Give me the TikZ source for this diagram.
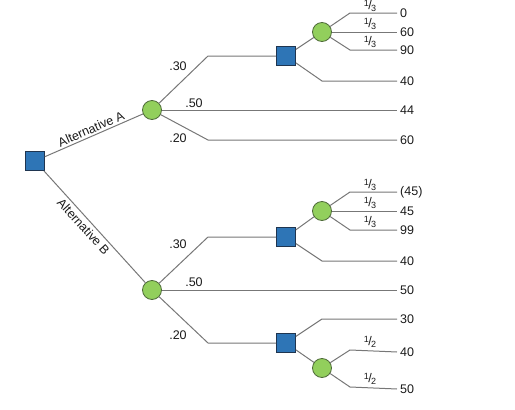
\documentclass[tikz,border=0pt]{standalone}
\usepackage{fontspec}
\setmainfont{Liberation Sans}
\definecolor{decblue}{HTML}{2E75B6}
\definecolor{decedge}{HTML}{1F3550}
\definecolor{chgreen}{HTML}{92CF5C}
\definecolor{chedge}{HTML}{4F6B3A}
\definecolor{branch}{HTML}{777777}
\definecolor{txt}{HTML}{1A1A1A}
\newcommand{\frc}[2]{\raisebox{0.45ex}{\fontsize{9}{9}\selectfont #1}\kern-0.5pt/\kern-0.5pt\raisebox{-0.35ex}{\fontsize{9}{9}\selectfont #2}}
\begin{document}
\begin{tikzpicture}[x=1pt,y=-1pt,
  every node/.style={font=\fontsize{12.5}{14}\selectfont, text=txt},
  decbox/.style={draw=decedge, fill=decblue, line width=0.8pt, minimum size=19pt, inner sep=0pt},
  chancenode/.style={circle, draw=chedge, fill=chgreen, line width=0.8pt, minimum size=19pt, inner sep=0pt},
  br/.style={draw=branch, line width=1pt},
  val/.style={anchor=west, inner sep=3pt},
  prob/.style={inner sep=0pt}]
\useasboundingbox (0,0) rectangle (515,410);

% nodes
\node[decbox] (r) at (35,161) {};
\node[chancenode] (a) at (152,110) {};
\node[chancenode] (b) at (152,290) {};
\node[decbox] (d1) at (286,56) {};
\node[chancenode] (c1) at (322,32) {};
\node[decbox] (d2) at (286,237) {};
\node[chancenode] (c2) at (322,211) {};
\node[decbox] (d3) at (286,343) {};
\node[chancenode] (c3) at (322,368) {};

% knee coordinates
\coordinate (ka1) at (208,56);
\coordinate (ka3) at (208,140);
\coordinate (kc11) at (350,13);
\coordinate (kc13) at (350,50);
\coordinate (kd1) at (322,81);
\coordinate (kb1) at (208,237);
\coordinate (kb3) at (208,343);
\coordinate (kc21) at (350,192);
\coordinate (kc23) at (350,230);
\coordinate (kd2) at (322,261);
\coordinate (kd3) at (322,319);
\coordinate (kc31) at (350,350);
\coordinate (kc32) at (350,387);

% values
\node[val] (v1) at (397,13) {0};
\node[val] (v2) at (397,32) {60};
\node[val] (v3) at (397,50) {90};
\node[val] (v4) at (397,81) {40};
\node[val] (v5) at (397,110) {44};
\node[val] (v6) at (397,140) {60};
\node[val] (v7) at (397,192) {(45)};
\node[val] (v8) at (397,211) {45};
\node[val] (v9) at (397,230) {99};
\node[val] (v10) at (397,261) {40};
\node[val] (v11) at (397,290) {50};
\node[val] (v12) at (397,319) {30};
\node[val] (v13) at (397,352) {40};
\node[val] (v14) at (397,389) {50};

% connectors
\draw[br] (r) -- node[sloped, above, inner sep=2pt] {Alternative A} (a);
\draw[br] (r) -- node[sloped, below, inner sep=3pt, pos=0.45] {Alternative B} (b);

\draw[br] (a) -- (ka1) -- (d1);
\draw[br] (a) -- (v5.west);
\draw[br] (a) -- (ka3) -- (v6.west);
\draw[br] (d1) -- (c1);
\draw[br] (d1) -- (kd1) -- (v4.west);
\draw[br] (c1) -- (kc11) -- (v1.west);
\draw[br] (c1) -- (v2.west);
\draw[br] (c1) -- (kc13) -- (v3.west);

\draw[br] (b) -- (kb1) -- (d2);
\draw[br] (b) -- (v11.west);
\draw[br] (b) -- (kb3) -- (d3);
\draw[br] (d2) -- (c2);
\draw[br] (d2) -- (kd2) -- (v10.west);
\draw[br] (c2) -- (kc21) -- (v7.west);
\draw[br] (c2) -- (v8.west);
\draw[br] (c2) -- (kc23) -- (v9.west);
\draw[br] (d3) -- (kd3) -- (v12.west);
\draw[br] (d3) -- (c3);
\draw[br] (c3) -- (kc31) -- (v13.west);
\draw[br] (c3) -- (kc32) -- (v14.west);

% probability labels
\node[prob] (pa1) at (178,66) {.30};
\node[prob] (pa2) at (194,103) {.50};
\node[prob] (pa3) at (178,138) {.20};
\node[prob] (pb1) at (178,244) {.30};
\node[prob] (pb2) at (194,282) {.50};
\node[prob] (pb3) at (178,335) {.20};
\node[prob] (q1) at (370,6) {\frc{1}{3}};
\node[prob] (q2) at (370,24) {\frc{1}{3}};
\node[prob] (q3) at (370,42) {\frc{1}{3}};
\node[prob] (q4) at (370,185) {\frc{1}{3}};
\node[prob] (q5) at (370,203) {\frc{1}{3}};
\node[prob] (q6) at (370,222) {\frc{1}{3}};
\node[prob] (q7) at (370,342) {\frc{1}{2}};
\node[prob] (q8) at (370,379) {\frc{1}{2}};
\end{tikzpicture}
\end{document}
